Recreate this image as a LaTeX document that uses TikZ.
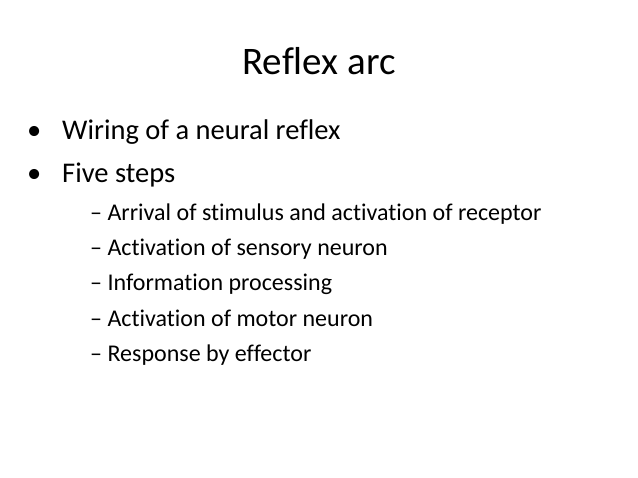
\documentclass[tikz,border=0pt]{standalone}
\usepackage{fontspec}
\setmainfont[Ligatures=NoCommon]{Carlito}
\begin{document}
\begin{tikzpicture}[x=1pt,y=-1pt,
  title/.style={anchor=base,font=\fontsize{39}{44}\selectfont,inner sep=0},
  lvl/.style={anchor=base west,font=\fontsize{28.5}{33}\selectfont,inner sep=0},
  sub/.style={anchor=base west,font=\fontsize{24}{28}\selectfont,inner sep=0}]
\useasboundingbox (0,0) rectangle (638,478);
\node[title] (t) at (319,75) {Reflex arc};
\node[lvl] (b1) at (27,140) {•};
\node[lvl] (l1) at (62,140) {Wiring of a neural reflex};
\node[lvl] (b2) at (27,183) {•};
\node[lvl] (l2) at (62,183) {Five steps};
\foreach \y/\t [count=\i] in {221/Arrival of stimulus and activation of receptor,
  256/Activation of sensory neuron,291/Information processing,
  327/Activation of motor neuron,362/Response by effector}{
  \node[sub] (d\i) at (90,\y) {– \t};
}
\end{tikzpicture}
\end{document}
